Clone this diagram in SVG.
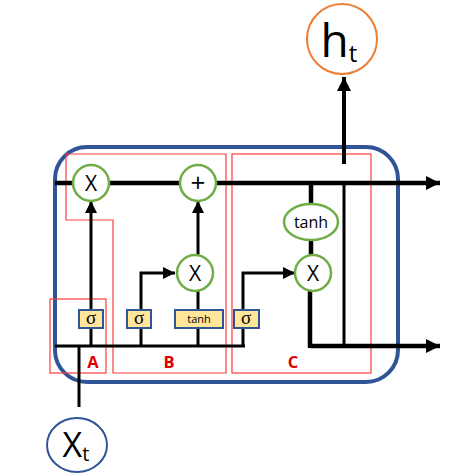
<svg xmlns="http://www.w3.org/2000/svg" width="474" height="474" viewBox="0 0 474 474">
<style>
.ln{stroke:#000;fill:none;stroke-linecap:butt}
.gate{fill:#fff;stroke:#70ad47;stroke-width:2.5}
.box{fill:#ffe699;stroke:#2f5597;stroke-width:2}
.reg{fill:none;stroke:#ff3b3b;stroke-width:1.2}
.t{font-family:"Open Sans","Liberation Sans",sans-serif;fill:#000;text-anchor:middle}
.sg{font-family:"Liberation Serif","DejaVu Serif",serif;fill:#000;text-anchor:middle;font-size:19px}
.lab{font-family:"Open Sans","Liberation Sans",sans-serif;font-weight:bold;fill:#e00000;font-size:16.5px;text-anchor:middle}
</style>
<defs>
<marker id="ah" markerUnits="userSpaceOnUse" markerWidth="16" markerHeight="16" refX="14" refY="7" orient="auto">
<path d="M0,0 L14,7 L0,14 Z" fill="#000"/>
</marker>
<marker id="ahs" markerUnits="userSpaceOnUse" markerWidth="14" markerHeight="14" refX="12" refY="6" orient="auto">
<path d="M0,0 L12,6 L0,12 Z" fill="#000"/>
</marker>
</defs>
<rect x="55" y="147" width="343" height="235" rx="32" ry="32" fill="none" stroke="#2f5597" stroke-width="4"/>
<g id="regions">
<path class="reg" d="M66,154 H226 V373 H113 V220 H66 Z"/>
<rect class="reg" x="50" y="299" width="56" height="74"/>
<rect class="reg" x="232" y="154" width="139" height="219"/>
</g>
<g id="connectors">
<line class="ln" x1="55" y1="183" x2="440" y2="183" stroke-width="4.5" marker-end="url(#ah)"/>
<line class="ln" x1="55" y1="346" x2="245" y2="346" stroke-width="3"/>
<line class="ln" x1="310" y1="346" x2="440" y2="346" stroke-width="4.5" marker-end="url(#ah)"/>
<line class="ln" x1="310" y1="291" x2="310" y2="348" stroke-width="4.5"/>
<line class="ln" x1="311" y1="183" x2="311" y2="204" stroke-width="4.5"/>
<line class="ln" x1="311" y1="240" x2="311" y2="255" stroke-width="4.5"/>
<line class="ln" x1="344" y1="183" x2="344" y2="346" stroke-width="3"/>
<line class="ln" x1="344" y1="164" x2="344" y2="77" stroke-width="4" marker-end="url(#ah)"/>
<line class="ln" x1="79" y1="346" x2="79" y2="407" stroke-width="3"/>
<line class="ln" x1="91" y1="346" x2="91" y2="201" stroke-width="3" marker-end="url(#ahs)"/>
<polyline class="ln" points="141,346 141,273 175,273" stroke-width="3" marker-end="url(#ahs)"/>
<line class="ln" x1="198" y1="346" x2="198" y2="291" stroke-width="3"/>
<line class="ln" x1="198" y1="255" x2="198" y2="201" stroke-width="3" marker-end="url(#ahs)"/>
<polyline class="ln" points="243,346 243,273 295,273" stroke-width="3" marker-end="url(#ahs)"/>
</g>
<g id="forget_mult"><circle class="gate" cx="91" cy="183" r="18"/><text class="t" x="91" y="191" font-size="21">X</text></g>
<g id="add"><circle class="gate" cx="198" cy="183" r="18"/><text class="t" x="198" y="192" font-size="26">+</text></g>
<g id="input_mult"><circle class="gate" cx="195" cy="273" r="18"/><text class="t" x="195" y="281" font-size="21">X</text></g>
<g id="output_mult"><circle class="gate" cx="313" cy="273" r="18"/><text class="t" x="313" y="281" font-size="21">X</text></g>
<g id="tanh_out"><ellipse class="gate" cx="311" cy="222" rx="27" ry="18"/><text class="t" x="311" y="228" font-size="16">tanh</text></g>
<g id="sigma_a"><rect class="box" x="79" y="310" width="24" height="18"/><text class="sg" x="91" y="324">σ</text></g>
<g id="sigma_b"><rect class="box" x="127" y="310" width="24" height="18"/><text class="sg" x="139" y="324">σ</text></g>
<g id="tanh_b"><rect class="box" x="175" y="310" width="48" height="18"/><text class="t" x="199" y="323" font-size="11">tanh</text></g>
<g id="sigma_c"><rect class="box" x="234" y="310" width="25" height="18"/><text class="sg" x="246" y="324">σ</text></g>
<g id="labels">
<text class="lab" x="93" y="368">A</text>
<text class="lab" x="169" y="368">B</text>
<text class="lab" x="293" y="368">C</text>
</g>
<g id="h_t"><circle cx="342" cy="39" r="35" fill="#fff" stroke="#ed7d31" stroke-width="2"/><text class="t" x="339" y="57" font-size="46">h<tspan font-size="24" dy="5">t</tspan></text></g>
<g id="x_t"><ellipse cx="77" cy="445" rx="30" ry="27" fill="#fff" stroke="#2f5597" stroke-width="2"/><text class="t" x="76" y="457" font-size="34">X<tspan font-size="20" dy="4">t</tspan></text></g>
</svg>
